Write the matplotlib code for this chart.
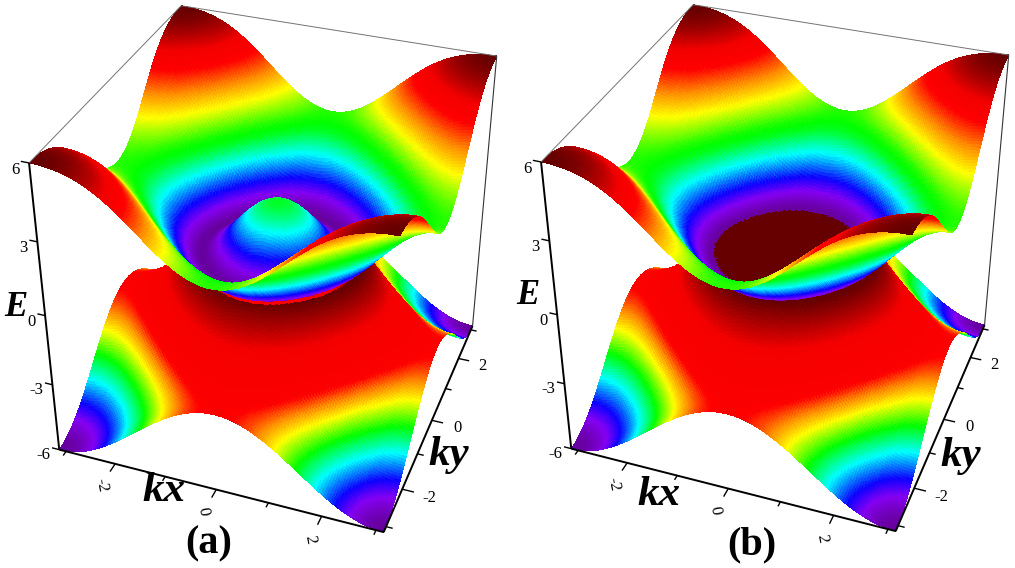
import numpy as np
import matplotlib
matplotlib.use('Agg')
import matplotlib.pyplot as plt
from matplotlib.colors import LinearSegmentedColormap

# ---------------- values ----------------
E_corner = 6.0      # band energy at the zone corners (kx, ky = +-pi)
E_saddle = 2.6      # |E| at the zone-edge midpoints
E_dome = 2.2        # upper band at the zone centre (top of the central dome)
E_dome_low = 2.7    # |E| of the lower band at the zone centre (hidden)
k_ring = 1.42       # radius of the ring where the upper band reaches E = 0
p_shape = 1.6       # how flat the upper band is around the ring
E_ticks = [-6, -3, 0, 3, 6]
E_ticklabels = ['-6', '-3', '0', '3', '6']
k_ticks = [-2, 0, 2]
k_ticklabels = ['-2', '0', '2']
k_minor = [-3, -1, 1, 3]
panel_tags = ['(a)', '(b)']

# colour stops (energy -> position in the colour map)
upper_E_stops = [0.0, 2.2, 2.6, 6.0]
upper_c_stops = [0.0, 0.43, 0.47, 1.0]
lower_E_stops = [-6.0, -2.6, -1.5, 0.0]
lower_c_stops = [0.0, 0.82, 0.86, 1.0]

W_PX, H_PX = 1015, 568
PI = np.pi
fig = plt.figure(figsize=(W_PX / 100, H_PX / 100), dpi=100)

# view (perspective) and placement
ELEV, AZIM, FOCAL, RY, RZ = 34.248, -69.979, 0.4980, 1.0116, 0.9857
RECT_A = [-0.01651, 0.03617, 0.56307, 1.00619]
DX_B, DY_B = 512 / W_PX, 1 / H_PX

N = 151
k = np.linspace(-PI, PI, N)
KX, KY = np.meshgrid(k, k)
CX, CY = np.cos(KX), np.cos(KY)

# upper band: |g|^p shape through the read energies and ring radius
gC = E_corner
gS = E_corner * (E_saddle / E_corner) ** (1 / p_shape)
gD = E_corner * (E_dome / E_corner) ** (1 / p_shape)
u0 = np.cos(k_ring)
c1 = -(gC + gD) / 4
A = (gC - gD) / 2
c2 = (A - gS) / 2
B = (A + gS) / 2
c3 = (B + c1 * (1 + u0) + c2 * u0) / (1 - u0 ** 2)
c0 = B - 2 * c3
g_up = c0 + c1 * (CX + CY) + c2 * CX * CY + c3 * (CX ** 2 + CY ** 2)

# lower band: |g| through the read energies
d1 = -(E_corner + E_dome_low) / 4
d0 = ((E_corner - E_dome_low) / 2 + E_saddle) / 2
d2 = (E_corner - E_dome_low) / 2 - d0
g_low = d0 + d1 * (CX + CY) + d2 * CX * CY

cmap = LinearSegmentedColormap.from_list('rb', [
    (0.00, (0.40, 0.00, 0.62)), (0.08, (0.52, 0.00, 0.95)), (0.16, (0.05, 0.00, 1.00)),
    (0.30, (0.00, 1.00, 1.00)), (0.45, (0.00, 1.00, 0.00)), (0.60, (1.00, 1.00, 0.00)),
    (0.70, (1.00, 0.55, 0.00)), (0.80, (1.00, 0.00, 0.00)), (0.88, (0.95, 0.00, 0.00)),
    (1.00, (0.40, 0.00, 0.00))])

SERIF = ['Liberation Serif', 'DejaVu Serif']


def to2d(ax, x, y, z):
    M = ax.get_proj()
    v = M @ np.array([x, y, z, 1.0])
    return v[0] / v[3], v[1] / v[3]


def label3d(ax, x, y, z, s, **kw):
    xp, yp = to2d(ax, x, y, z)
    ax.text2D(xp, yp, s, transform=ax.transData, family=SERIF, fontsize=12, **kw)


def panel(rect, disk):
    ax = fig.add_axes(rect, projection='3d')
    ax.set_xlim(-PI, PI); ax.set_ylim(-PI, PI); ax.set_zlim(-6, 6)
    ax.view_init(elev=ELEV, azim=AZIM)
    ax.set_proj_type('persp', focal_length=FOCAL)
    ax.set_box_aspect((1, RY, RZ))
    ax.set_axis_off()
    ax.patch.set_alpha(0)
    ax.computed_zorder = False
    gu = np.maximum(g_up, 0) if disk else g_up
    gl = np.maximum(g_low, 0) if disk else g_low
    U = E_corner * (np.abs(gu) / gC) ** p_shape
    Lw = -np.abs(gl)
    fcl = cmap(np.interp(Lw, lower_E_stops, lower_c_stops))
    fcu = cmap(np.interp(U, upper_E_stops, upper_c_stops))
    if disk:
        fcu[g_up <= 0] = cmap(1.0)
    ax.plot_surface(KX, KY, Lw, facecolors=fcl, rstride=1, cstride=1, shade=False,
                    linewidth=0, antialiased=False, zorder=1)
    ax.plot_surface(KX, KY, U, facecolors=fcu, rstride=1, cstride=1, shade=False,
                    linewidth=0, antialiased=False, zorder=2)
    kw = dict(zorder=5, solid_capstyle='butt')
    ax.plot([-PI, -PI], [-PI, -PI], [-6, 6], color='k', lw=1.4, **kw)
    ax.plot([-PI, PI], [-PI, -PI], [-6, -6], color='k', lw=1.4, **kw)
    ax.plot([PI, PI], [-PI, PI], [-6, -6], color='k', lw=1.4, **kw)
    ax.plot([PI, PI], [PI, PI], [-6, 6], color='0.2', lw=0.8, **kw)
    ax.plot([-PI, -PI], [-PI, PI], [6, 6], color='0.45', lw=0.7, **kw)
    ax.plot([-PI, PI], [PI, PI], [6, 6], color='0.45', lw=0.7, **kw)
    for z, s in zip(E_ticks, E_ticklabels):
        ax.plot([-PI, -PI - 0.15], [-PI, -PI], [z, z], color='k', lw=1.0, **kw)
        label3d(ax, -PI - 0.2, -PI, z - 0.35, s, ha='right', va='center', zorder=6)
    for x in k_minor:
        ax.plot([x, x], [-PI, -PI - 0.12], [-6, -6], color='k', lw=1.0, **kw)
    for x, s in zip(k_ticks, k_ticklabels):
        ax.plot([x, x], [-PI, -PI - 0.22], [-6, -6], color='k', lw=1.0, **kw)
        label3d(ax, x - 0.05, -PI - 0.5, -6.2, s, ha='center', va='center',
                rotation=-80, rotation_mode='anchor', zorder=6)
    for y in k_minor:
        ax.plot([PI, PI + 0.12], [y, y], [-6, -6], color='k', lw=1.0, **kw)
    for y, s in zip(k_ticks, k_ticklabels):
        ax.plot([PI, PI + 0.22], [y, y], [-6, -6], color='k', lw=1.0, **kw)
        label3d(ax, PI + 0.5, y, -6.1, s, ha='center', va='center', zorder=6)
    return ax


ax_a = panel(RECT_A, False)
ax_b = panel([RECT_A[0] + DX_B, RECT_A[1] + DY_B, RECT_A[2], RECT_A[3]], True)


def ftext(x, y, s, size, style='italic'):
    fig.text(x / W_PX, 1 - y / H_PX, s, ha='center', va='center', fontsize=size,
             fontweight='bold', fontstyle=style, family=SERIF)


ftext(16, 307, 'E', 25)
ftext(164, 491, 'kx', 31)
ftext(449, 455, 'ky', 31)
ftext(209, 544, panel_tags[0], 29, 'normal')
ftext(528, 295, 'E', 25)
ftext(659, 495, 'kx', 31)
ftext(961, 456, 'ky', 31)
ftext(752, 545, panel_tags[1], 29, 'normal')

fig.savefig('out.png', dpi=100)
